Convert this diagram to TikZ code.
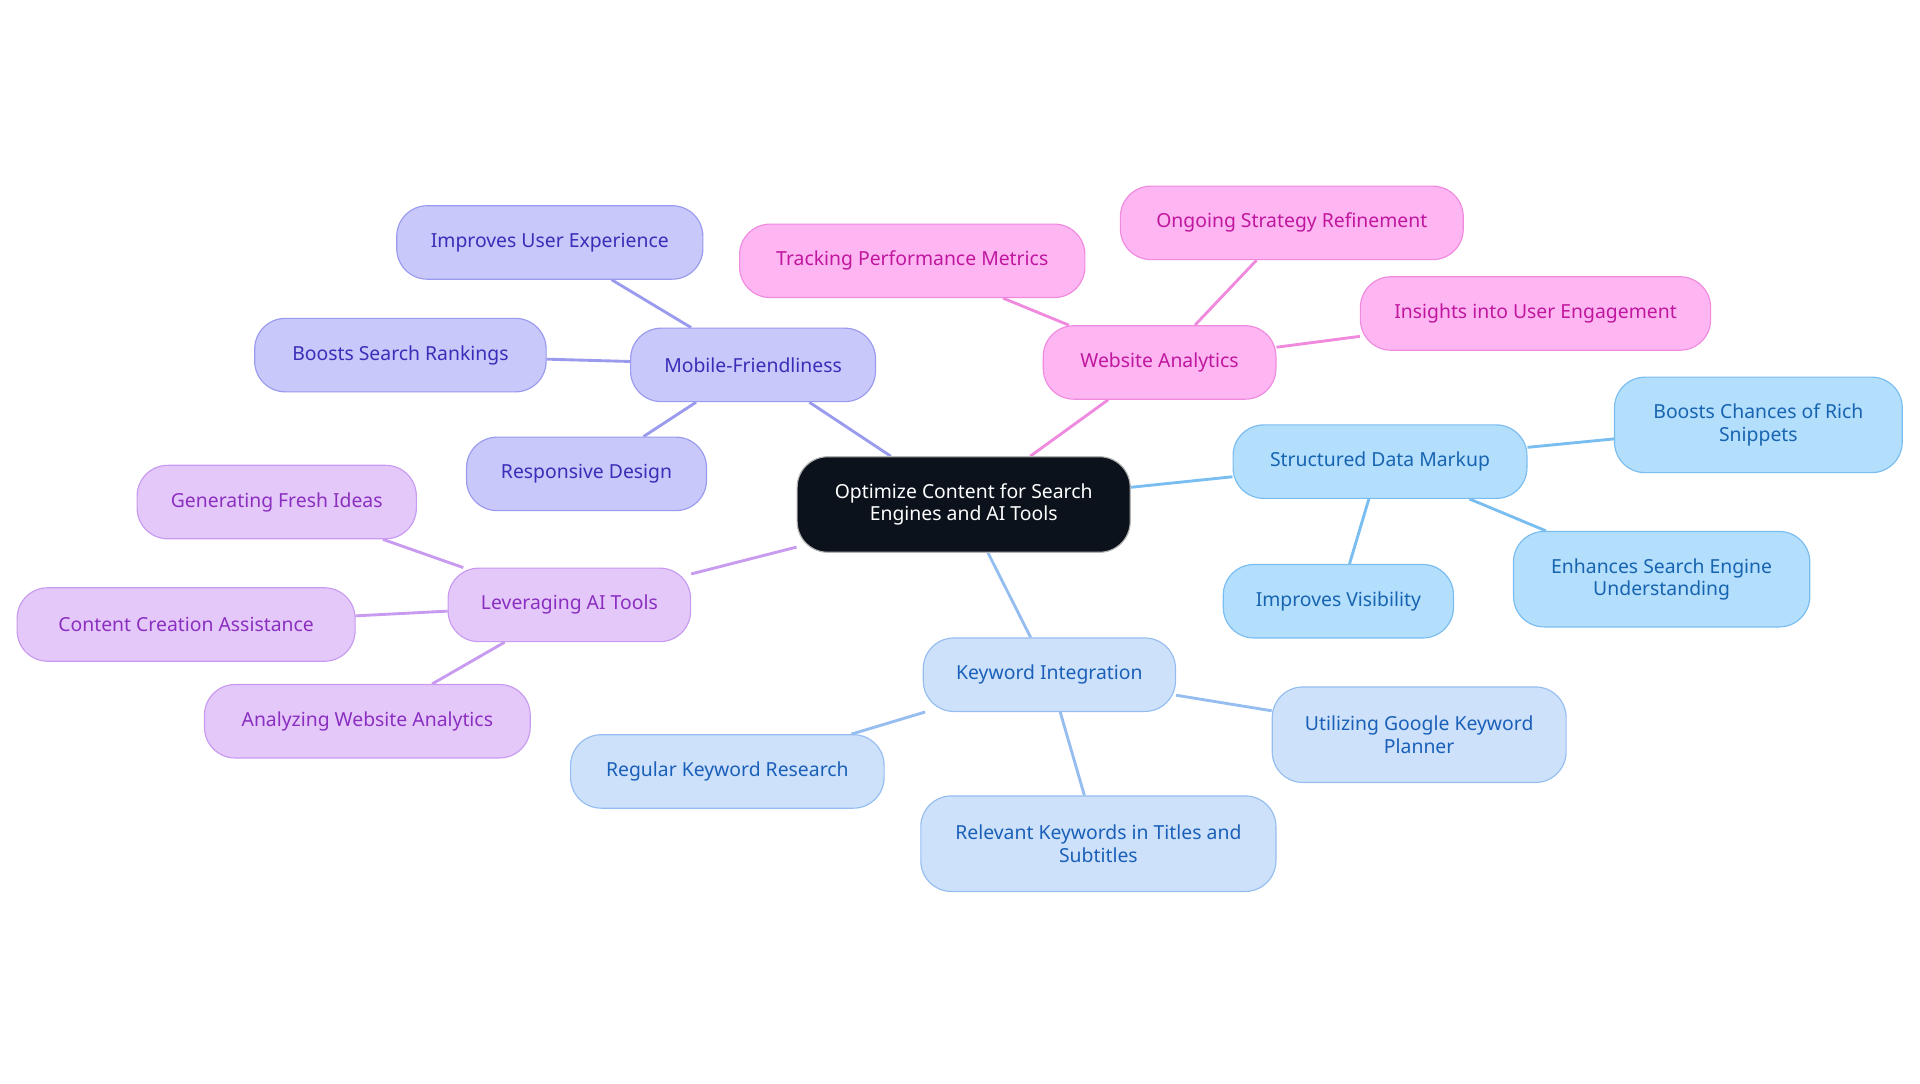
\documentclass[tikz,border=0pt]{standalone}
\usepackage{fontspec}
\setmainfont{Noto Sans}
\pgfdeclarelayer{bg}\pgfsetlayers{bg,main}
\definecolor{cfill}{HTML}{0B121B}
\definecolor{mfill}{HTML}{C8C8FA}\definecolor{mdraw}{HTML}{9A9AEE}\definecolor{mtext}{HTML}{3A2DB8}
\definecolor{pfill}{HTML}{FDB6F2}\definecolor{pdraw}{HTML}{F08ADF}\definecolor{ptext}{HTML}{C0169E}
\definecolor{sfill}{HTML}{B3DEFC}\definecolor{sdraw}{HTML}{7ABDF0}\definecolor{stext}{HTML}{1764B0}
\definecolor{kfill}{HTML}{CDE2FA}\definecolor{kdraw}{HTML}{95BDF0}\definecolor{ktext}{HTML}{1A5FB8}
\definecolor{afill}{HTML}{E5C8FA}\definecolor{adraw}{HTML}{C89AF0}\definecolor{atext}{HTML}{8A2FC0}
\tikzset{
 bx/.style={rounded corners=0.75cm,minimum height=1.8cm,align=center,font=\fontsize{13.5}{15.5}\selectfont,line width=0.8pt,inner sep=2pt},
 tall/.style={minimum height=2.34cm},
 cen/.style={bx,tall,fill=cfill,draw=gray!60,text=white},
 mb/.style={bx,fill=mfill,draw=mdraw,text=mtext},
 pb/.style={bx,fill=pfill,draw=pdraw,text=ptext},
 sb/.style={bx,fill=sfill,draw=sdraw,text=stext},
 kb/.style={bx,fill=kfill,draw=kdraw,text=ktext},
 ab/.style={bx,fill=afill,draw=adraw,text=atext},
 ln/.style={line width=2pt},
 w/.style={minimum width=#1*0.03cm}
}
\begin{document}
\begin{tikzpicture}[x=0.03cm,y=-0.03cm]
\useasboundingbox (0,0) rectangle (1568,885);
\node[cen,w=272] (c) at (787,412) {Optimize Content for Search\\Engines and AI Tools};
\node[mb,w=200] (m) at (615,298) {Mobile-Friendliness};
\node[mb,w=250] (m1) at (449,198) {Improves User Experience};
\node[mb,w=238] (m2) at (327,290) {Boosts Search Rankings};
\node[mb,w=196] (m3) at (479,387) {Responsive Design};
\node[pb,w=190] (p) at (947,296) {Website Analytics};
\node[pb,w=282] (p1) at (745,213) {Tracking Performance Metrics};
\node[pb,w=280] (p2) at (1055,182) {Ongoing Strategy Refinement};
\node[pb,w=286] (p3) at (1254,256) {Insights into User Engagement};
\node[sb,w=240] (s) at (1127,377) {Structured Data Markup};
\node[sb,tall,w=235] (s1) at (1436,347) {Boosts Chances of Rich\\Snippets};
\node[sb,tall,w=242] (s2) at (1357,473) {Enhances Search Engine\\Understanding};
\node[sb,w=188] (s3) at (1093,491) {Improves Visibility};
\node[kb,w=206] (k) at (857,551) {Keyword Integration};
\node[kb,tall,w=240] (k1) at (1159,600) {Utilizing Google Keyword\\Planner};
\node[kb,tall,w=290] (k2) at (897,689) {Relevant Keywords in Titles and\\Subtitles};
\node[kb,w=256] (k3) at (594,630) {Regular Keyword Research};
\node[ab,w=198] (a) at (465,494) {Leveraging AI Tools};
\node[ab,w=228] (a1) at (226,410) {Generating Fresh Ideas};
\node[ab,w=276] (a2) at (152,510) {Content Creation Assistance};
\node[ab,w=266] (a3) at (300,589) {Analyzing Website Analytics};
\begin{pgfonlayer}{bg}
\draw[ln,mdraw] (c)--(m) (m)--(m1) (m)--(m2) (m)--(m3);
\draw[ln,pdraw] (c)--(p) (p)--(p1) (p)--(p2) (p)--(p3);
\draw[ln,sdraw] (c)--(s) (s)--(s1) (s)--(s2) (s)--(s3);
\draw[ln,kdraw] (c)--(k) (k)--(k1) (k)--(k2) (k)--(k3);
\draw[ln,adraw] (c)--(a) (a)--(a1) (a)--(a2) (a)--(a3);
\end{pgfonlayer}
\end{tikzpicture}
\end{document}
